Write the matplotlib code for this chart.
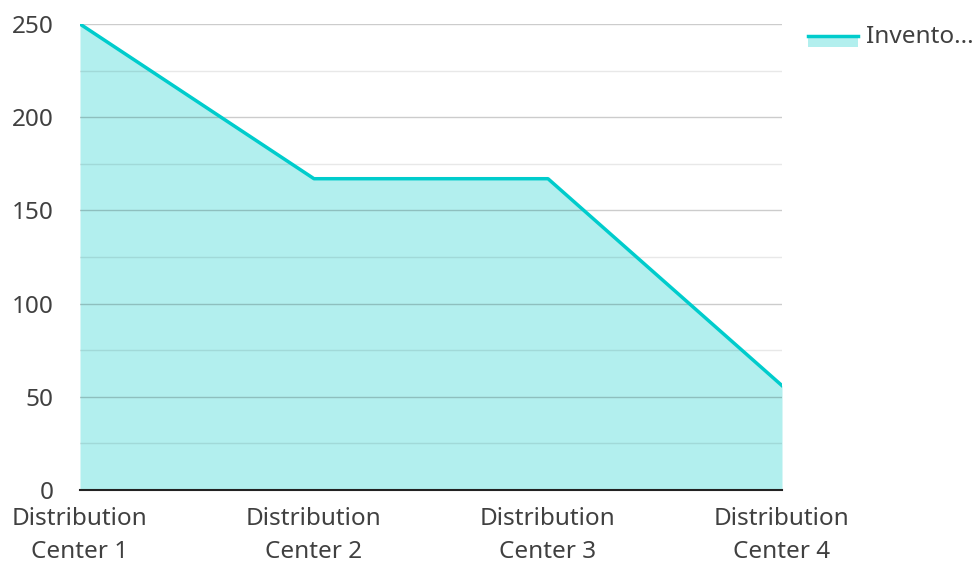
import matplotlib
matplotlib.use("Agg")
import matplotlib.pyplot as plt
from matplotlib.lines import Line2D
from matplotlib.patches import Rectangle
from matplotlib.ticker import MultipleLocator

# ===============================
# Data
# ===============================
centers = ["Distribution\nCenter 1", "Distribution\nCenter 2",
           "Distribution\nCenter 3", "Distribution\nCenter 4"]
inventory = [250, 167, 167, 56]
series_name = "Invento..."

line_color = "#00CCCC"
fill_color = "#B2EFEE"
text_color = "#404040"
fsize = 17.5

plt.rcParams["font.family"] = ["Noto Sans", "DejaVu Sans"]

# ===============================
# Plot
# ===============================
fig = plt.figure(figsize=(9.77, 5.62), dpi=100)
ax = fig.add_axes([80 / 977, 72 / 562, 702 / 977, 466 / 562])

x = list(range(len(centers)))
ax.fill_between(x, inventory, 0, color=fill_color, zorder=1, linewidth=0)
ax.plot(x, inventory, color=line_color, linewidth=2.5, zorder=3)

ax.set_xlim(0, len(centers) - 1)
ax.set_ylim(0, 250)
ax.yaxis.set_major_locator(MultipleLocator(50))
ax.yaxis.set_minor_locator(MultipleLocator(25))
ax.set_axisbelow(False)
ax.grid(axis="y", which="major", color="black", alpha=0.2, linewidth=1, zorder=2)
ax.grid(axis="y", which="minor", color="black", alpha=0.09, linewidth=1, zorder=2)

ax.set_xticks(x)
ax.set_xticklabels(centers, fontsize=fsize, color=text_color, linespacing=1.5)
ax.tick_params(axis="y", labelsize=fsize, labelcolor=text_color, length=0, pad=19)
ax.tick_params(axis="x", length=0, pad=12)
ax.tick_params(axis="y", which="minor", length=0)

for side in ["top", "right", "left"]:
    ax.spines[side].set_visible(False)
ax.spines["bottom"].set_color("#222222")
ax.spines["bottom"].set_linewidth(1.5)
ax.spines["bottom"].set_zorder(4)

# ===============================
# Legend (drawn by hand)
# ===============================
fig.add_artist(Rectangle((808 / 977, 1 - 47 / 562), 50 / 977, 12 / 562,
                         transform=fig.transFigure, color=fill_color, linewidth=0))
fig.add_artist(Line2D([808 / 977, 858 / 977], [1 - 35.5 / 562] * 2,
                      transform=fig.transFigure, color=line_color, linewidth=2.5))
fig.text(866 / 977, 1 - 37 / 562, series_name, fontsize=fsize, color=text_color,
         va="center", ha="left")

fig.savefig("out.png", dpi=100)
